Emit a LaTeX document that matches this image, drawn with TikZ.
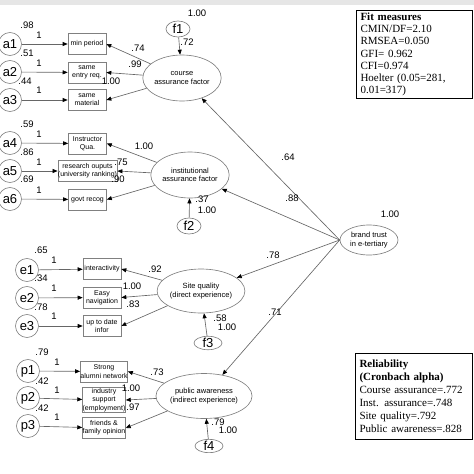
\documentclass[tikz,border=0pt]{standalone}
\usepackage{fontspec}
\setmainfont{Liberation Serif}
\newfontfamily\arial{Liberation Sans}
\usetikzlibrary{shapes.geometric,arrows.meta}
\definecolor{linegray}{HTML}{666666}
\definecolor{boxgray}{HTML}{808080}
\definecolor{bargray}{HTML}{E6E6E6}
\tikzset{
  conn/.style={draw=linegray, line width=0.65pt, -{Triangle[length=5pt,width=4pt,color=black,fill=black]}},
  ind/.style={draw=boxgray, line width=0.65pt, rectangle, minimum width=38pt, minimum height=21pt, inner sep=0pt, align=center, font=\arial\fontsize{7}{8.2}\selectfont},
  fac/.style={draw=boxgray, line width=0.65pt, ellipse, minimum width=76pt, minimum height=46pt, inner sep=0pt, align=center, font=\arial\fontsize{7.5}{8.5}\selectfont},
  err/.style={draw=boxgray, line width=0.65pt, circle, minimum size=23pt, inner sep=0pt, font=\arial\fontsize{13}{13}\selectfont},
  dist/.style={draw=boxgray, line width=0.65pt, ellipse, minimum width=24pt, minimum height=16pt, inner sep=0pt, font=\arial\fontsize{13}{13}\selectfont},
  num/.style={font=\arial\fontsize{9.5}{9.5}\selectfont, inner sep=0pt},
  info/.style={draw=black, line width=1pt, rectangle, align=left, anchor=north west, font=\fontsize{11}{12.3}\selectfont, inner xsep=4pt, inner ysep=2pt}
}
\begin{document}
\begin{tikzpicture}[x=1pt,y=-1pt]
\useasboundingbox (0,0) rectangle (474,474);
\fill[bargray] (0,0) rectangle (474,5);

% ---- group 1
\node[err] (a1) at (10,44) {a1};
\node[err] (a2) at (10,72) {a2};
\node[err] (a3) at (10,100) {a3};
\node[ind] (b1) at (87,44) {min period};
\node[ind] (b2) at (87,72.5) {same\\entry req.};
\node[ind] (b3) at (87,100) {same\\material};
\node[fac] (ca) at (182,78) {course\\assurance factor};
\node[dist] (f1) at (178,29) {f1};

% ---- group 2
\node[err] (a4) at (10,143) {a4};
\node[err] (a5) at (10,171) {a5};
\node[err] (a6) at (10,199) {a6};
\node[ind] (b4) at (87.5,143.5) {Instructor\\Qua.};
\node[ind] (b5) at (87.5,171) {research ouputs\\(university ranking)};
\node[ind] (b6) at (87.5,199.5) {govt recog};
\node[fac] (ia) at (190,175) {institutional\\assurance factor};
\node[dist] (f2) at (189,226) {f2};

% ---- group 3
\node[err] (e1) at (27,270) {e1};
\node[err] (e2) at (27,298) {e2};
\node[err] (e3) at (27,326) {e3};
\node[ind] (c1) at (102,269) {interactivity};
\node[ind] (c2) at (102,297.5) {Easy\\navigation};
\node[ind] (c3) at (102,326) {up to date\\infor};
\node[fac, minimum width=74pt, minimum height=44pt] (sq) at (201,291) {Site quality\\(direct experience)};
\node[dist, minimum width=28pt, minimum height=13pt] (f3) at (208,343) {f3};

% ---- group 4
\node[err] (p1) at (28,371) {p1};
\node[err] (p2) at (28,398) {p2};
\node[err] (p3) at (28,426) {p3};
\node[ind] (d1) at (104,371.5) {Strong\\alumni network};
\node[ind, minimum height=25pt] (d2) at (104,400) {industry\\support\\(employment)};
\node[ind] (d3) at (104,428) {friends \&\\family opinion};
\node[fac, minimum width=77pt, minimum height=45pt] (pa) at (204,396) {public awareness\\(indirect experience)};
\node[dist, minimum width=28pt, minimum height=13pt] (f4) at (209,446) {f4};

% ---- brand trust
\node[fac, minimum width=58pt, minimum height=30pt] (bt) at (369,240) {brand trust\\in e-tertiary};

% ---- connectors
\foreach \e/\b in {a1/b1,a2/b2,a3/b3,a4/b4,a5/b5,a6/b6,e1/c1,e2/c2,e3/c3,p1/d1,p2/d2,p3/d3}
  \draw[conn] (\e) -- (\b);
\foreach \f/\b in {ca/b1,ca/b2,ca/b3,ia/b4,ia/b5,ia/b6,sq/c1,sq/c2,sq/c3,pa/d1,pa/d2,pa/d3}
  \draw[conn] (\f) -- (\b.east);
\draw[conn] (f1) -- (ca);
\draw[conn] (f2) -- (ia);
\draw[conn] (f3) -- (sq);
\draw[conn] (f4) -- (pa);
\foreach \f in {ca,ia,sq,pa}
  \draw[conn] (bt.west) -- (\f);

% ---- numbers group 1
\node[num] at (27,25) {.98};
\node[num] at (39,35) {1};
\node[num] at (27,53) {.51};
\node[num] at (39,63) {1};
\node[num] at (25,81) {.44};
\node[num] at (39,90) {1};
\node[num] at (197,13) {1.00};
\node[num] at (187,42) {.72};
\node[num] at (138,48) {.74};
\node[num] at (135,64) {.99};
\node[num] at (111,81) {1.00};
% group 2
\node[num] at (27,124) {.59};
\node[num] at (39,134) {1};
\node[num] at (27,152) {.86};
\node[num] at (39,162) {1};
\node[num] at (27,179) {.69};
\node[num] at (39,190) {1};
\node[num] at (144,146) {1.00};
\node[num] at (121,162) {.75};
\node[num] at (118,179) {.90};
\node[num] at (202,199) {.37};
\node[num] at (207,210) {1.00};
% group 3
\node[num] at (41,250) {.65};
\node[num] at (54,260) {1};
\node[num] at (41,278) {.34};
\node[num] at (54,288) {1};
\node[num] at (41,307) {.78};
\node[num] at (54,316) {1};
\node[num] at (155,269) {.92};
\node[num] at (132,286) {1.00};
\node[num] at (133,304) {.83};
\node[num] at (220,318) {.58};
\node[num] at (227,327) {1.00};
% group 4
\node[num] at (42,352) {.79};
\node[num] at (57,362) {1};
\node[num] at (42,381) {.42};
\node[num] at (57,390) {1};
\node[num] at (42,408) {.42};
\node[num] at (57,417) {1};
\node[num] at (157,372) {.73};
\node[num] at (131,388) {1.00};
\node[num] at (133,407) {.97};
\node[num] at (218,422) {.79};
\node[num] at (228,430) {1.00};
% structural
\node[num] at (390,214) {1.00};
\node[num] at (288,157) {.64};
\node[num] at (292,198) {.88};
\node[num] at (273,255) {.78};
\node[num] at (275,312) {.71};

% ---- info boxes
\node[info, minimum width=116pt, minimum height=87pt, text width=108pt] (fit) at (356,10)
 {\textbf{Fit measures}\\CMIN/DF=2.10\\RMSEA=0.050\\GFI= 0.962\\CFI=0.974\\Hoelter (0.05=281,\\0.01=317)};
\node[info, minimum width=117pt, minimum height=86pt, text width=109pt, font=\fontsize{11}{13}\selectfont] (rel) at (355,353)
 {\textbf{Reliability}\\\textbf{(Cronbach alpha)}\\Course assurance=.772\\Inst. assurance=.748\\Site quality=.792\\Public awareness=.828};
\end{tikzpicture}
\end{document}
